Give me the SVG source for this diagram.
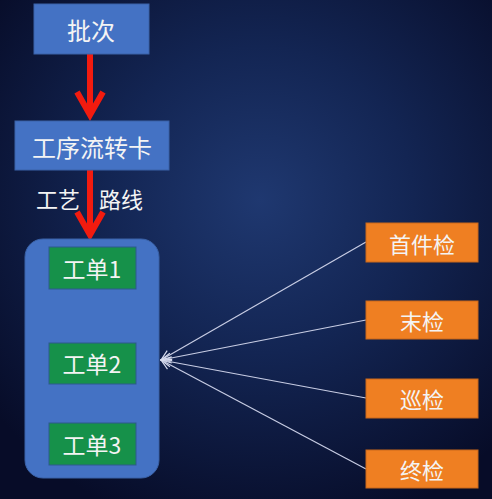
<svg xmlns="http://www.w3.org/2000/svg" width="492" height="499" viewBox="0 0 492 499">
<defs>
<radialGradient id="bg" cx="260" cy="200" r="340" gradientUnits="userSpaceOnUse">
<stop offset="0" stop-color="#1f3870"/>
<stop offset="0.45" stop-color="#132553"/>
<stop offset="1" stop-color="#070c28"/>
</radialGradient>
<marker id="wa" viewBox="0 0 12 12" refX="11" refY="6" markerWidth="12" markerHeight="12" markerUnits="userSpaceOnUse" orient="auto">
<path d="M1,1 L11,6 L1,11" fill="none" stroke="#d8dcef" stroke-width="1.2"/>
</marker>
<style>
.t{font-family:"Noto Sans CJK SC","Liberation Sans",sans-serif;fill:#f4f4f4;text-anchor:middle;dominant-baseline:central}
.blue{fill:#4472c4;stroke:#3a62a8;stroke-width:1}
.green{fill:#16914a;stroke:#2c5a8c;stroke-width:1}
.orange{fill:#ef7f22;stroke:#c9691b;stroke-width:1}
.red{stroke:#f21b0f;stroke-width:6;fill:none}
.thin{stroke:#c8cde4;stroke-width:1.2;fill:none}
</style>
</defs>
<rect width="492" height="499" fill="url(#bg)"/>
<g id="connectors">
<line class="red" x1="90" y1="54" x2="90" y2="114"/>
<path class="red" d="M77,92 L90,115 L103,92"/>
<line class="red" x1="90" y1="170" x2="90" y2="234"/>
<path class="red" d="M77,212 L90,235 L103,212"/>
<line class="thin" x1="366" y1="242" x2="161" y2="360" marker-end="url(#wa)"/>
<line class="thin" x1="366" y1="320" x2="161" y2="360" marker-end="url(#wa)"/>
<line class="thin" x1="366" y1="398" x2="161" y2="360" marker-end="url(#wa)"/>
<line class="thin" x1="366" y1="469" x2="161" y2="360" marker-end="url(#wa)"/>
<text class="t" x="58" y="198" font-size="22">工艺</text>
<text class="t" x="121" y="198" font-size="22">路线</text>
</g>
<g id="batch"><rect class="blue" x="34" y="4" width="115" height="50"/><text class="t" x="91" y="29" font-size="24">批次</text></g>
<g id="card"><rect class="blue" x="15" y="121" width="154" height="49"/><text class="t" x="92" y="146" font-size="24">工序流转卡</text></g>
<g id="container"><rect class="blue" x="25" y="239" width="134" height="239" rx="18"/></g>
<g id="wo1"><rect class="green" x="49" y="247" width="87" height="42"/><text class="t" x="92" y="268" font-size="23">工单1</text></g>
<g id="wo2"><rect class="green" x="49" y="343" width="87" height="41"/><text class="t" x="92" y="363" font-size="23">工单2</text></g>
<g id="wo3"><rect class="green" x="49" y="423" width="87" height="42"/><text class="t" x="92" y="444" font-size="23">工单3</text></g>
<g id="first"><rect class="orange" x="366" y="223" width="112" height="39"/><text class="t" x="422" y="243" font-size="22">首件检</text></g>
<g id="last"><rect class="orange" x="366" y="301" width="112" height="38"/><text class="t" x="422" y="320" font-size="22">末检</text></g>
<g id="patrol"><rect class="orange" x="366" y="379" width="112" height="39"/><text class="t" x="422" y="398" font-size="22">巡检</text></g>
<g id="final"><rect class="orange" x="366" y="450" width="112" height="38"/><text class="t" x="422" y="469" font-size="22">终检</text></g>
</svg>
